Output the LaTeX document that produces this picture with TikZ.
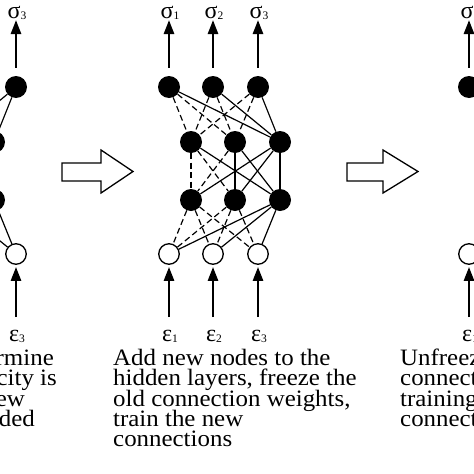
\documentclass[tikz,border=0pt]{standalone}
\usepackage{fontspec}
\setmainfont{Liberation Serif}
\newfontfamily\txtfont[FakeStretch=1.06]{Liberation Serif}
\usetikzlibrary{arrows.meta}
\newcommand\gsub[1]{\raisebox{-1.5pt}{\fontsize{11.5}{11.5}\selectfont #1}}
\begin{document}
\begin{tikzpicture}[x=1pt,y=-1pt,
  neuron/.style={circle,fill=black,minimum size=22pt,inner sep=0pt},
  inneuron/.style={circle,draw,line width=1.3pt,fill=white,minimum size=20.5pt,inner sep=0pt},
  conn/.style={line width=1.2pt},
  frozen/.style={conn,dash pattern=on 6pt off 3.5pt},
  io/.style={line width=2.6pt,-{Triangle[length=14pt,width=10pt]}},
  glab/.style={inner sep=0pt,anchor=base,font=\fontsize{24}{24}\selectfont},
  txt/.style={inner sep=0pt,anchor=base west,font=\txtfont\fontsize{23.5}{20}\selectfont},
  txtr/.style={txt,anchor=base east},
  bigarrow/.style={draw,line width=1.3pt,fill=white,line join=miter}
]
\useasboundingbox (0,0) rectangle (474,474);
\fill[white] (0,0) rectangle (474,474);
\clip (0,0) rectangle (474,474);

% ---------- left panel (partly visible) ----------
\node[neuron] (LO3) at (16,87) {};
\node[neuron] (LA2) at (-6,142) {};
\node[neuron] (LB2) at (-6,200) {};
\coordinate (LA1) at (-50,142);
\coordinate (LB1) at (-50,200);
\node[inneuron] (LI3) at (16,254) {};
\draw[conn] (LO3) -- (LA1);
\draw[conn] (LO3) -- (LA2);
\draw[conn] (LI3) -- (LB1);
\draw[conn] (LI3) -- (LB2);
\coordinate (Lt3) at (16,20);
\coordinate (Lu3) at (16,317);
\draw[io,shorten <=8pt] (LO3) -- (Lt3);
\draw[io,shorten >=2pt] (Lu3) -- (LI3);
\node[glab] (Ls3) at (17,18) {σ\gsub{3}};
\node[glab] (Le3) at (17,341) {ε\gsub{3}};

% ---------- middle panel ----------
\foreach \i/\x in {1/169,2/213,3/258}{
  \node[neuron] (O\i) at (\x,87) {};
  \node[inneuron] (I\i) at (\x,254) {};
  \coordinate (t\i) at (\x,20);
  \coordinate (u\i) at (\x,317);
}
\foreach \i/\x in {1/191,2/235,3/280}{
  \node[neuron] (A\i) at (\x,142) {};
  \node[neuron] (B\i) at (\x,200) {};
}
% frozen (old) connections
\foreach \i in {1,2,3}{
  \draw[frozen] (O\i) -- (A1);
  \draw[frozen] (O\i) -- (A2);
  \draw[frozen] (B1) -- (I\i);
  \draw[frozen] (B2) -- (I\i);
}
\draw[frozen] (A1) -- (B1);
\draw[frozen] (A1) -- (B2);
\draw[frozen] (A2) -- (B1);
\draw[conn] (A2) -- (B2);
% new connections
\foreach \i in {1,2,3}{
  \draw[conn] (O\i) -- (A3);
  \draw[conn] (B3) -- (I\i);
  \draw[conn] (A\i) -- (B3);
}
\draw[conn] (A3) -- (B1);
\draw[conn] (A3) -- (B2);
% in/out arrows
\foreach \i in {1,2,3}{
  \draw[io,shorten <=8pt] (O\i) -- (t\i);
  \draw[io,shorten >=2pt] (u\i) -- (I\i);
}
\node[glab] (s1) at (170,18) {σ\gsub{1}};
\node[glab] (s2) at (214,18) {σ\gsub{2}};
\node[glab] (s3) at (259,18) {σ\gsub{3}};
\node[glab] (e1) at (170,341) {ε\gsub{1}};
\node[glab] (e2) at (214,341) {ε\gsub{2}};
\node[glab] (e3) at (259,341) {ε\gsub{3}};

% ---------- right panel (partly visible) ----------
\node[neuron] (RO1) at (469,87) {};
\node[inneuron] (RI1) at (469,254) {};
\coordinate (Rt1) at (469,20);
\coordinate (Ru1) at (469,317);
\draw[io,shorten <=8pt] (RO1) -- (Rt1);
\draw[io,shorten >=2pt] (Ru1) -- (RI1);
\node[glab] (Rs1) at (470,18) {σ\gsub{1}};
\node[glab] (Re1) at (470,341) {ε\gsub{1}};

% ---------- big arrows ----------
\draw[bigarrow] (62,163) -- (101,163) -- (101,150) -- (133,171.5) -- (101,193) -- (101,181) -- (62,181) -- cycle;
\draw[bigarrow] (347,163) -- (383,163) -- (383,150) -- (418,171.5) -- (383,193) -- (383,181) -- (347,181) -- cycle;

% ---------- texts ----------
\node[txtr] (l1) at (54,365) {rmine};
\node[txtr] (l2) at (57,385.5) {city is};
\node[txtr] (l3) at (25,406) {ew};
\node[txtr] (l4) at (35,426) {ded};

\node[txt] (m1) at (113,365) {Add new nodes to the};
\node[txt] (m2) at (113,385.5) {hidden layers, freeze the};
\node[txt] (m3) at (113,406) {old connection weights,};
\node[txt] (m4) at (113,426) {train the new};
\node[txt] (m5) at (113,446.5) {connections};

\node[txt] (r1) at (400,365) {Unfreez};
\node[txt] (r2) at (400,385.5) {connect};
\node[txt] (r3) at (400,406) {training};
\node[txt] (r4) at (400,426) {connect};
\end{tikzpicture}
\end{document}
